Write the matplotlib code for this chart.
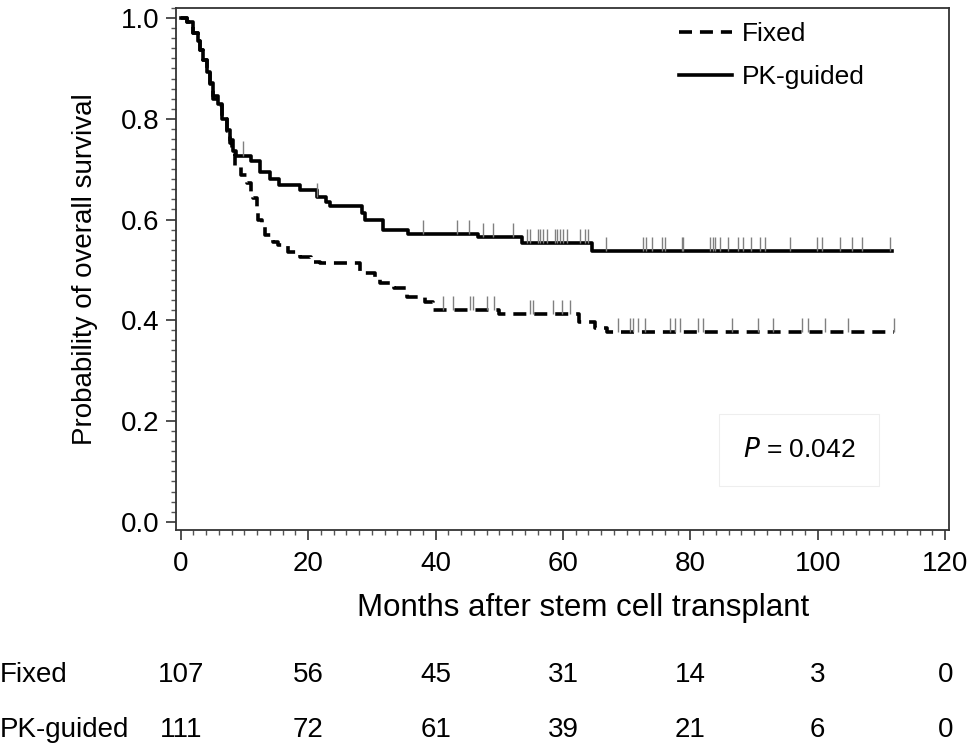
import numpy as np
import matplotlib
matplotlib.use('Agg')
import matplotlib.pyplot as plt
from matplotlib.ticker import MultipleLocator
import matplotlib.transforms as mtransforms

plt.rcParams['font.family'] = ['Liberation Sans', 'DejaVu Sans']

# Kaplan-Meier steps: (time of drop, survival after drop)
pk_times = [0, 1.0, 2.0, 2.7, 3.0, 3.5, 4.1, 4.6, 5.1, 5.9, 6.5, 7.2, 7.7, 8.2, 8.6,
            11.0, 12.5, 14.0, 15.5, 18.7, 21.4, 22.8, 23.5, 28.5, 29.0, 31.8,
            35.6, 46.7, 53.6, 64.6]
pk_surv = [1.0, 0.993, 0.97, 0.955, 0.936, 0.916, 0.893, 0.872, 0.845, 0.83, 0.80,
           0.777, 0.757, 0.737, 0.727, 0.717, 0.694, 0.68, 0.668, 0.658, 0.645,
           0.635, 0.626, 0.612, 0.60, 0.58, 0.572, 0.565, 0.553, 0.538]
pk_end = 111.7
pk_censor = [9.8, 21.4, 38.1, 43.4, 45.3, 47.5, 49.0, 52.2, 54.4, 54.9, 56.0, 56.4,
             56.9, 57.5, 58.8, 59.1, 59.5, 60.0, 60.6, 62.7, 63.5, 63.9, 66.8, 72.6,
             73.0, 74.0, 75.6, 76.0, 78.7, 78.9, 83.1, 83.6, 83.9, 84.7, 85.9, 87.5,
             88.3, 89.5, 91.0, 91.7, 95.7, 99.9, 100.7, 103.5, 105.4, 107.0, 111.3]

fx_times = [0, 1.0, 2.0, 2.7, 3.0, 3.5, 4.1, 4.6, 5.1, 5.9, 6.5, 7.2, 7.7, 8.0, 8.5,
            9.5, 10.4, 11.0, 11.4, 11.9, 12.2, 12.8, 13.3, 14.5, 15.3, 16.8, 18.7,
            20.5, 21.9, 28.2, 30.5, 31.3, 33.4, 35.5, 38.4, 39.6, 50.0, 62.5, 65.0,
            66.9]
fx_surv = [1.0, 0.993, 0.97, 0.955, 0.936, 0.916, 0.89, 0.87, 0.84, 0.828, 0.80,
           0.775, 0.752, 0.73, 0.705, 0.688, 0.672, 0.655, 0.642, 0.62, 0.60, 0.585,
           0.57, 0.556, 0.549, 0.535, 0.525, 0.516, 0.513, 0.493, 0.485, 0.473,
           0.465, 0.446, 0.436, 0.42, 0.413, 0.397, 0.385, 0.377]
fx_end = 112.0
fx_censor = [41.2, 42.8, 45.4, 45.9, 48.1, 49.1, 54.9, 55.3, 58.5, 59.9, 61.1, 68.7,
             70.5, 71.0, 71.8, 72.9, 76.8, 77.6, 78.4, 81.2, 82.0, 86.6, 90.6, 93.0,
             97.5, 98.5, 101.1, 104.8, 112.0]

# numbers at risk
risk_months = [0, 20, 40, 60, 80, 100, 120]
risk_fixed = [107, 56, 45, 31, 14, 3, 0]
risk_pk = [111, 72, 61, 39, 21, 6, 0]


def surv_at(times, surv, t):
    i = np.searchsorted(times, t, side='right') - 1
    return np.array(surv)[i]


fig = plt.figure(figsize=(9.69, 7.48), dpi=100)
ax = fig.add_axes([0.1816, 0.2914, 0.7978, 0.6979])

fs = 20
dash = (0, (3.6, 2.2))

# fixed
ax.step(fx_times + [fx_end], fx_surv + [fx_surv[-1]], where='post', color='black',
        lw=2.6, linestyle=dash, label='Fixed')
y = surv_at(fx_times, fx_surv, fx_censor)
ax.vlines(fx_censor, y, y + 0.028, color='#808080', lw=1.0)

# pk-guided
ax.step(pk_times + [pk_end], pk_surv + [pk_surv[-1]], where='post', color='black',
        lw=2.6, label='PK-guided')
y = surv_at(pk_times, pk_surv, pk_censor)
ax.vlines(pk_censor, y, y + 0.028, color='#808080', lw=1.0)

ax.set_xlim(-0.75, 120.6)
ax.set_ylim(-0.0165, 1.02)
ax.xaxis.set_major_locator(MultipleLocator(20))
ax.xaxis.set_minor_locator(MultipleLocator(2))
ax.yaxis.set_major_locator(MultipleLocator(0.2))
ax.yaxis.set_minor_locator(MultipleLocator(0.02))
ax.yaxis.set_major_formatter(plt.FuncFormatter(lambda v, p: '%.1f' % v))
ax.tick_params(which='major', direction='out', length=7, width=1.2, labelsize=fs,
               color='#333333')
ax.tick_params(which='minor', direction='out', length=3.5, width=1.0, color='#555555')
ax.tick_params(axis='x', which='major', pad=8)
ax.tick_params(axis='y', which='major', pad=5)
for s in ax.spines.values():
    s.set_linewidth(1.3)
    s.set_color('#333333')

ax.set_xlabel('Months after stem cell transplant', fontsize=22.5)
ax.xaxis.set_label_coords(0.527, -0.121)
ax.set_ylabel('Probability of overall survival', fontsize=fs, labelpad=16)

leg = ax.legend(loc='upper left', bbox_to_anchor=(0.62, 1.018), frameon=False,
                fontsize=fs - 1, handlelength=2.0, handletextpad=0.4, labelspacing=0.7)

ax.text(0.806, 0.153, r'$\it{P}$ = 0.042', transform=ax.transAxes, fontsize=fs - 1,
        ha='center', va='center',
        bbox=dict(boxstyle='square,pad=0.9', fc='white', ec='#eeeeee', lw=0.8))

# risk table
trans = mtransforms.blended_transform_factory(ax.transData, fig.transFigure)
fig.text(0.0, 1 - 675 / 748, 'Fixed', fontsize=fs, va='center', ha='left')
fig.text(0.0, 1 - 730 / 748, 'PK-guided', fontsize=fs, va='center', ha='left')
for m, a, b in zip(risk_months, risk_fixed, risk_pk):
    ax.text(m, 1 - 675 / 748, str(a), transform=trans, fontsize=fs, ha='center',
            va='center', clip_on=False)
    ax.text(m, 1 - 730 / 748, str(b), transform=trans, fontsize=fs, ha='center',
            va='center', clip_on=False)

fig.savefig('out.png', dpi=100)
